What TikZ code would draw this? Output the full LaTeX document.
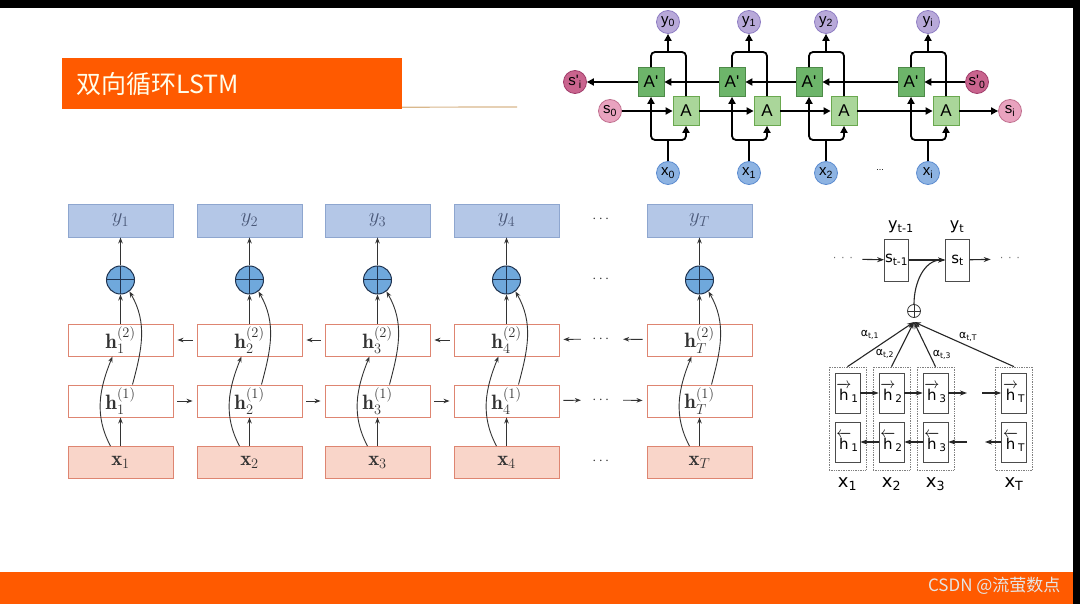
\RequirePackage{fix-cm}
\documentclass[tikz,border=0pt]{standalone}
\usepackage{fontspec}
\usepackage{amsmath}
\usetikzlibrary{arrows.meta}
\newfontfamily\cjk{Noto Sans CJK SC}
\newfontfamily\arial{Liberation Sans}
\newfontfamily\dejavu{DejaVu Sans}
\definecolor{barorange}{HTML}{FF5A00}
\definecolor{tanline}{HTML}{D9B88C}
\definecolor{yfill}{HTML}{B4C7E7}
\definecolor{ybord}{HTML}{8EA6CF}
\definecolor{ytext}{HTML}{4A5878}
\definecolor{hbord}{HTML}{DE8571}
\definecolor{xfill}{HTML}{F9D5C9}
\definecolor{sumfill}{HTML}{6FA8DC}
\definecolor{sumbord}{HTML}{1F3350}
\definecolor{arrgray}{HTML}{333333}
\definecolor{ycfill}{HTML}{B8A9D9}
\definecolor{ycbord}{HTML}{8E7CC3}
\definecolor{xcfill}{HTML}{8DB3E2}
\definecolor{xcbord}{HTML}{5B8BD0}
\definecolor{spfill}{HTML}{C9648E}
\definecolor{spbord}{HTML}{A03C6A}
\definecolor{sfill}{HTML}{E9A3BF}
\definecolor{sbord}{HTML}{C0708F}
\definecolor{apfill}{HTML}{6DB56A}
\definecolor{apbord}{HTML}{4D8A48}
\definecolor{afill}{HTML}{AAD69A}
\definecolor{abord}{HTML}{6AA84F}

\begin{document}
\begin{tikzpicture}
[x=1pt, y=-1pt,
 mathfont/.style={font=\fontsize{20.74}{24}\selectfont},
 ybox/.style={draw=ybord, fill=yfill, minimum width=105pt, minimum height=33pt, inner sep=0pt, mathfont, text=ytext, line width=0.9pt},
 hbox/.style={draw=hbord, fill=white, minimum width=105pt, minimum height=32pt, inner sep=0pt, mathfont, text=arrgray, line width=0.9pt},
 xbox/.style={hbox, fill=xfill},
 sumnode/.style={circle, draw=sumbord, fill=sumfill, minimum size=28pt, inner sep=0pt, line width=1pt,
   path picture={\draw[sumbord, line width=1pt]
     (path picture bounding box.north) -- (path picture bounding box.south)
     (path picture bounding box.west) -- (path picture bounding box.east);}},
 dots/.style={text=arrgray, font=\fontsize{14.4}{16}\selectfont},
 arr/.style={-{Stealth[length=6pt,width=4.5pt]}, draw=arrgray, line width=0.9pt},
 circ/.style={circle, minimum size=23pt, inner sep=0pt, line width=0.8pt, font=\arial\fontsize{15}{16}\selectfont},
 ycirc/.style={circ, draw=ycbord, fill=ycfill},
 xcirc/.style={circ, draw=xcbord, fill=xcfill},
 spcirc/.style={circ, draw=spbord, fill=spfill},
 scirc/.style={circ, draw=sbord, fill=sfill},
 abox/.style={draw=abord, fill=afill, minimum width=26pt, minimum height=29pt, inner sep=0pt, line width=0.8pt, font=\arial\fontsize{17}{18}\selectfont},
 apbox/.style={abox, draw=apbord, fill=apfill},
 tline/.style={black, line width=1.8pt},
 tarr/.style={tline, -{Triangle[length=7pt,width=7pt]}},
 lab/.style={inner sep=0pt, font=\dejavu\fontsize{16}{18}\selectfont},
 sbox/.style={draw=black!70, minimum width=24pt, minimum height=42pt, inner sep=0pt, line width=0.7pt, font=\dejavu\fontsize{15}{17}\selectfont},
 ibox/.style={draw=black!70, minimum width=25pt, minimum height=40pt, inner sep=0pt, line width=0.7pt, font=\dejavu\fontsize{15}{17}\selectfont},
 colbox/.style={draw=black!50, densely dotted, minimum width=37pt, minimum height=103pt, inner sep=0pt, line width=0.7pt},
 aarr/.style={-{Stealth[length=7pt,width=5pt]}, draw=black!85, line width=1.1pt},
 alab/.style={inner sep=0pt, font=\dejavu\fontsize{11}{12}\selectfont}]

\useasboundingbox (0,0) rectangle (1080,604);
\fill[white] (0,0) rectangle (1080,604);
\fill[black] (0,0) rectangle (1080,8);
\fill[black] (1073,0) rectangle (1080,604);
\fill[barorange] (0,572) rectangle (1073,604);
\node[anchor=east, text=black!10, font=\cjk\fontsize{17}{19}\selectfont] (credit) at (1064,586) {CSDN @流萤数点};

\node[fill=barorange, minimum width=340pt, minimum height=51pt, inner sep=0pt] (title) at (232,83.5) {};
\node[anchor=west, text=white!92!yellow, font=\cjk\fontsize{25}{27}\selectfont] (titletext) at (73,84) {双向循环LSTM};
\draw[tanline, line width=1.2pt] (title.south east) ++(0,-2) coordinate (tl) -- (517,107);

\foreach \i/\cx in {1/120.5,2/249.5,3/377.5,4/506.5,T/699.5} {
  \node[ybox] (y\i) at (\cx,220.5) {$y_{\i}$};
  \node[sumnode] (c\i) at (\cx,280) {};
  \node[hbox] (h2\i) at (\cx,340) {$\mathbf{h}_{\i}^{(2)}$};
  \node[hbox] (h1\i) at (\cx,401) {$\mathbf{h}_{\i}^{(1)}$};
  \node[xbox] (x\i) at (\cx,462.5) {$\mathbf{x}_{\i}$};
  \draw[arr] (c\i) -- (y\i);
  \draw[arr] (h2\i) -- (c\i);
  \draw[arr] (x\i) -- (h1\i);
  \draw[arr] ([xshift=-10pt]x\i.north) to[out=118,in=-112] ([xshift=-8pt]h2\i.south);
  \draw[arr] ([xshift=12pt]h1\i.north) to[out=75,in=-60] (c\i.-52);
}

\node[dots] (d1) at (602,219) {$\cdots$};
\node[dots] (d2) at (602,279) {$\cdots$};
\node[dots] (d3) at (602,339) {$\cdots$};
\node[dots] (d4) at (602,400) {$\cdots$};
\node[dots] (d5) at (602,461) {$\cdots$};

\foreach \from/\to in {1/2,2/3,3/4}
  \draw[arr, shorten <=4pt, shorten >=4pt] (h1\from) -- (h1\to);
\foreach \from/\to in {2/1,3/2,4/3}
  \draw[arr, shorten <=4pt, shorten >=4pt] (h2\from) -- (h2\to);
\draw[arr, shorten <=4pt, shorten >=8pt] (h14) -- (d4);
\draw[arr, shorten <=8pt, shorten >=4pt] (d4) -- (h1T);
\draw[arr, shorten <=8pt, shorten >=4pt] (d3) -- (h24);
\draw[arr, shorten <=4pt, shorten >=8pt] (h2T) -- (d3);

% bidirectional rnn, top right
\node[spcirc] (spi) at (575,82) {s'\textsubscript{i}};
\node[scirc] (s0) at (610,111) {s\textsubscript{0}};
\node[spcirc] (sp0) at (977,82) {s'\textsubscript{0}};
\node[scirc] (si) at (1010,111) {s\textsubscript{i}};
\node[font=\arial\fontsize{9}{10}\selectfont] (tdots) at (880,170) {...};

\foreach \i/\cx/\sub in {1/668/0,2/749/1,3/826/2,4/928/i} {
  \node[ycirc] (ty\i) at (\cx,22) {y\textsubscript{\sub}};
  \node[apbox] (ap\i) at (\cx-17,82) {A'};
  \node[abox] (a\i) at (\cx+18,111) {A};
  \node[xcirc] (tx\i) at (\cx,173) {x\textsubscript{\sub}};
  \coordinate (top\i) at (\cx,52);
  \coordinate (bot\i) at (\cx,140);
  \draw[tline, rounded corners=4pt] (ap\i.north) |- (top\i) -| (a\i.north);
  \draw[tarr] (top\i) -- (ty\i);
  \draw[tline] (tx\i) -- (bot\i);
  \draw[tarr, rounded corners=4pt] (bot\i) -| (ap\i.south);
  \draw[tarr, rounded corners=4pt] (bot\i) -| (a\i.south);
}

\foreach \from/\to in {s0/a1,a1/a2,a2/a3,a3/a4,a4/si,sp0/ap4,ap4/ap3,ap3/ap2,ap2/ap1,ap1/spi}
  \draw[tarr] (\from) -- (\to);

% attention, bottom right
\node[lab] (yt1) at (901,227) {y\textsubscript{t-1}};
\node[lab] (yt) at (957,227) {y\textsubscript{t}};
\node[sbox] (st1) at (896.5,260) {s\textsubscript{t-1}};
\node[sbox] (st) at (957.5,260) {s\textsubscript{t}};
\node[text=black!60, font=\dejavu\fontsize{10}{12}\selectfont] (dl) at (843,259) {·\hspace{5pt}·\hspace{5pt}·};
\node[text=black!60, font=\dejavu\fontsize{10}{12}\selectfont] (dr) at (1010,259) {·\hspace{5pt}·\hspace{5pt}·};
\draw[aarr, shorten <=6pt] (dl) -- (st1);
\draw[aarr] (st1) -- (st);
\draw[aarr, shorten >=6pt] (st) -- (dr);

\node[circle, draw=black!80, minimum size=13pt, inner sep=0pt, line width=0.8pt,
  path picture={\draw[black!80, line width=0.8pt]
    (path picture bounding box.north) -- (path picture bounding box.south)
    (path picture bounding box.west) -- (path picture bounding box.east);}] (sum) at (914,311) {};
\coordinate (conv) at (914,322);
\draw[aarr] (sum.north) to[out=90,in=180] (st.west);

\foreach \i/\cx in {1/847.5,2/891.5,3/935.5,T/1014} {
  \node[colbox] (col\i) at (\cx,418.5) {};
  \node[ibox] (f\i) at (\cx,393) {$\overrightarrow{\hbox{h}}$\textsubscript{\i}};
  \node[ibox] (b\i) at (\cx,442) {$\overleftarrow{\hbox{h}}$\textsubscript{\i}};
  \node[lab, font=\dejavu\fontsize{18}{20}\selectfont] (lx\i) at (\cx,484) {x\textsubscript{\i}};
  \draw[aarr] (col\i.north) -- (conv);
}

\node[alab] (al1) at (870,335) {α\textsubscript{t,1}};
\node[alab] (al2) at (885,354) {α\textsubscript{t,2}};
\node[alab] (al3) at (942,355) {α\textsubscript{t,3}};
\node[alab] (alT) at (968,337) {α\textsubscript{t,T}};

\coordinate (fe) at (967,393);
\coordinate (fs) at (982,393);
\coordinate (be) at (967,442);
\coordinate (bs) at (985,442);
\foreach \from/\to in {f1/f2,f2/f3,f3/fe,fs/fT,b2/b1,b3/b2,be/b3,bT/bs}
  \draw[aarr] (\from) -- (\to);

\end{tikzpicture}
\end{document}
